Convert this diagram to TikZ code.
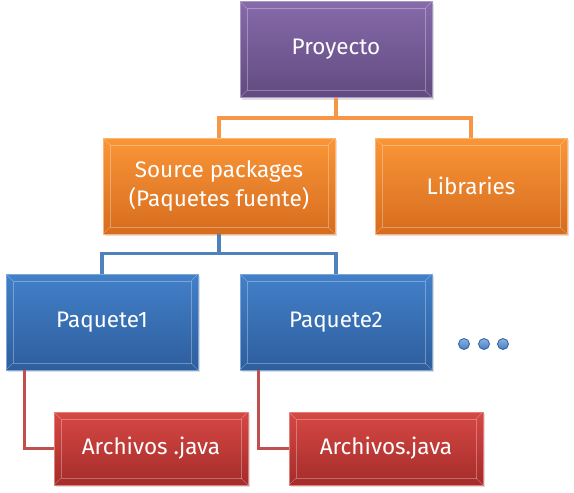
\documentclass[tikz,border=0pt]{standalone}
\usepackage{fontspec}
\setmainfont{Fira Sans}
\usepackage{tikz}
\usetikzlibrary{shadows}
\definecolor{mypurple1}{RGB}{134, 106, 170}
\definecolor{mypurple2}{RGB}{98, 75, 128}
\definecolor{myorange1}{RGB}{250, 150, 56}
\definecolor{myorange2}{RGB}{214, 108, 30}
\definecolor{myblue1}{RGB}{66, 128, 200}
\definecolor{myblue2}{RGB}{46, 94, 158}
\definecolor{myred1}{RGB}{214, 72, 68}
\definecolor{myred2}{RGB}{164, 44, 42}
\definecolor{lineorange}{RGB}{247, 150, 70}
\definecolor{lineblue}{RGB}{79, 129, 189}
\definecolor{linered}{RGB}{192, 80, 77}
\tikzset{
  box/.style = {rectangle, minimum width = 192pt, minimum height = 96pt, align = center,
    text = white, font = \fontsize{22.5}{29}\selectfont, line width = 0.8pt,
    drop shadow = {shadow xshift = 1.5pt, shadow yshift = -2pt, opacity = 0.25},
    path picture = {
      \draw[white, opacity = 0.3, line width = 0.6pt]
        ([xshift = 7pt, yshift = -7pt]path picture bounding box.north west) rectangle
        ([xshift = -7pt, yshift = 7pt]path picture bounding box.south east);
      \draw[white, opacity = 0.3, line width = 0.6pt]
        (path picture bounding box.north west) -- ([xshift = 7pt, yshift = -7pt]path picture bounding box.north west)
        (path picture bounding box.north east) -- ([xshift = -7pt, yshift = -7pt]path picture bounding box.north east)
        (path picture bounding box.south west) -- ([xshift = 7pt, yshift = 7pt]path picture bounding box.south west)
        (path picture bounding box.south east) -- ([xshift = -7pt, yshift = 7pt]path picture bounding box.south east);
    }},
  purplebox/.style = {box, top color = mypurple1, bottom color = mypurple2, draw = mypurple1!70!white},
  orangebox/.style = {box, top color = myorange1, bottom color = myorange2, draw = myorange1!70!white},
  bluebox/.style = {box, top color = myblue1, bottom color = myblue2, draw = myblue1!70!white},
  redbox/.style = {box, minimum height = 73pt, top color = myred1, bottom color = myred2, draw = myred1!70!white},
  link/.style = {line width = 3.5pt},
  dotnode/.style = {circle, minimum size = 11pt, inner sep = 0pt, top color = myblue1!60!white, bottom color = myblue1, draw = myblue2, line width = 0.8pt}
}
\begin{document}
\begin{tikzpicture}[x = 1pt, y = -1pt]
\useasboundingbox (0, 0) rectangle (574, 493);
\node [purplebox] (proyecto) at (336, 49.5) {Proyecto};
\node [orangebox, minimum width = 232pt] (source) at (219, 186) {Source packages\\(Paquetes fuente)};
\node [orangebox] (libraries) at (471, 186) {Libraries};
\node [bluebox] (paq1) at (102, 322) {Paquete1};
\node [bluebox] (paq2) at (336, 322) {Paquete2};
\node [redbox, minimum width = 194pt] (arch1) at (151, 448.5) {Archivos .java};
\node [redbox, minimum width = 194pt] (arch2) at (386, 448.5) {Archivos.java};
\foreach \i/\x in {1/464, 2/484, 3/503}
  \node [dotnode] (dot\i) at (\x, 344) {};
\draw[link, lineorange] (proyecto.south) -- ++(0, 20) -| (source.north);
\draw[link, lineorange] (proyecto.south) ++(0, 20) -| (libraries.north);
\draw[link, lineblue] (source.south) -- ++(0, 19) -| (paq1.north);
\draw[link, lineblue] (source.south) ++(0, 19) -| (paq2.north);
\draw[link, linered] (paq1.south west) ++(19, 0) |- (arch1.west);
\draw[link, linered] (paq2.south west) ++(19, 0) |- (arch2.west);
\end{tikzpicture}
\end{document}
